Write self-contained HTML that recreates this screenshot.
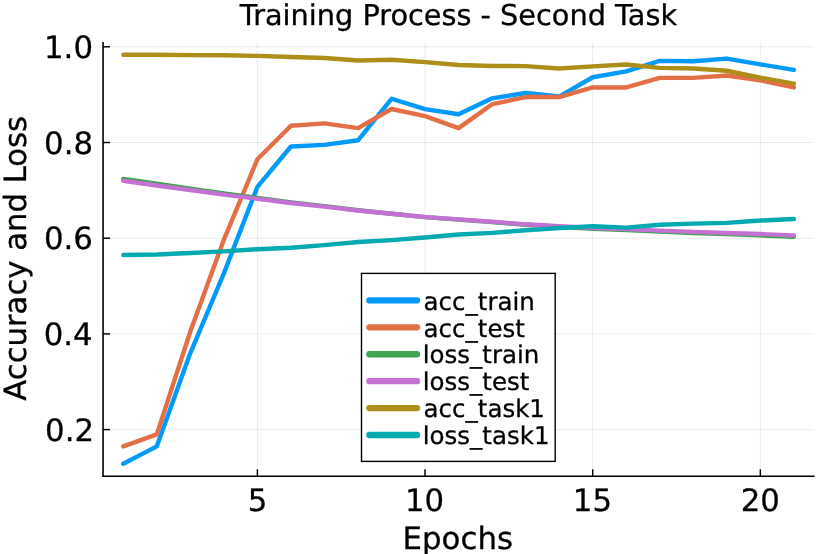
<!DOCTYPE html>
<html lang="en"><head><meta charset="utf-8"><title>Training Process - Second Task</title>
<style>html,body{margin:0;padding:0;background:#fff;}body{width:830px;height:554px;overflow:hidden;}svg{display:block;}text{font-family:'DejaVu Sans', 'Liberation Sans', sans-serif;fill:#000;stroke:#000;stroke-width:0.3px;stroke-linejoin:round;text-rendering:geometricPrecision;}</style>
</head><body>
<svg width="830" height="554" viewBox="0 0 830 554">
<rect x="0" y="0" width="830" height="554" fill="#ffffff"/>
<g stroke="#000" stroke-opacity="0.1" stroke-width="0.8" fill="none">
<line x1="257.40" y1="42.10" x2="257.40" y2="476.25"/>
<line x1="425.05" y1="42.10" x2="425.05" y2="476.25"/>
<line x1="592.70" y1="42.10" x2="592.70" y2="476.25"/>
<line x1="760.35" y1="42.10" x2="760.35" y2="476.25"/>
<line x1="103.05" y1="429.60" x2="814.10" y2="429.60"/>
<line x1="103.05" y1="333.90" x2="814.10" y2="333.90"/>
<line x1="103.05" y1="238.20" x2="814.10" y2="238.20"/>
<line x1="103.05" y1="142.50" x2="814.10" y2="142.50"/>
<line x1="103.05" y1="46.80" x2="814.10" y2="46.80"/>
</g>
<g stroke="#000" stroke-width="1.45" fill="none" stroke-linecap="butt">
<line x1="103.05" y1="42.10" x2="103.05" y2="476.97" stroke-width="1.6"/>
<line x1="102.30" y1="476.25" x2="814.60" y2="476.25"/>
<line x1="257.40" y1="476.25" x2="257.40" y2="469.25"/>
<line x1="425.05" y1="476.25" x2="425.05" y2="469.25"/>
<line x1="592.70" y1="476.25" x2="592.70" y2="469.25"/>
<line x1="760.35" y1="476.25" x2="760.35" y2="469.25"/>
<line x1="103.05" y1="429.60" x2="110.05" y2="429.60"/>
<line x1="103.05" y1="333.90" x2="110.05" y2="333.90"/>
<line x1="103.05" y1="238.20" x2="110.05" y2="238.20"/>
<line x1="103.05" y1="142.50" x2="110.05" y2="142.50"/>
<line x1="103.05" y1="46.80" x2="110.05" y2="46.80"/>
</g>
<g fill="none" stroke-width="4.40" stroke-linecap="round" stroke-linejoin="round">
<polyline stroke="#009AFA" points="123.28,463.72 156.81,446.35 190.34,353.04 223.87,273.37 257.40,186.86 290.93,146.52 324.46,144.89 357.99,140.30 391.52,98.77 425.05,109.15 458.58,114.27 492.11,98.33 525.64,92.98 559.17,96.56 592.70,77.23 626.23,71.44 659.76,60.92 693.29,61.25 726.82,58.57 760.35,64.36 793.88,69.82"/>
<polyline stroke="#E36F47" points="123.28,446.35 156.81,434.39 190.34,331.51 223.87,239.64 257.40,159.25 290.93,125.75 324.46,123.36 357.99,128.15 391.52,109.00 425.05,116.18 458.58,128.15 492.11,104.22 525.64,97.04 559.17,97.04 592.70,87.47 626.23,87.47 659.76,77.90 693.29,77.90 726.82,75.51 760.35,80.29 793.88,87.47"/>
<polyline stroke="#3EA44E" points="123.28,178.87 156.81,183.79 190.34,188.58 223.87,193.36 257.40,197.86 290.93,202.31 324.46,206.14 357.99,210.21 391.52,213.80 425.05,217.08 458.58,219.59 492.11,222.11 525.64,224.82 559.17,226.76 592.70,228.75 626.23,229.97 659.76,231.63 693.29,232.95 726.82,234.17 760.35,235.40 793.88,236.81"/>
<polyline stroke="#C371D2" points="123.28,180.78 156.81,185.47 190.34,190.02 223.87,194.56 257.40,198.82 290.93,203.03 324.46,206.62 357.99,210.45 391.52,213.80 425.05,216.95 458.58,219.35 492.11,221.74 525.64,224.32 559.17,226.14 592.70,228.01 626.23,229.11 659.76,230.64 693.29,231.84 726.82,232.94 760.35,234.04 793.88,235.33"/>
<polyline stroke="#AC8E18" points="123.28,54.79 156.81,54.79 190.34,55.17 223.87,55.32 257.40,55.89 290.93,56.99 324.46,58.04 357.99,60.44 391.52,59.72 425.05,62.11 458.58,64.98 492.11,65.94 525.64,66.13 559.17,68.52 592.70,66.42 626.23,64.50 659.76,67.85 693.29,68.48 726.82,70.73 760.35,77.57 793.88,83.60"/>
<polyline stroke="#00AAAE" points="123.28,254.95 156.81,254.47 190.34,253.03 223.87,251.36 257.40,249.21 290.93,247.77 324.46,245.14 357.99,242.03 391.52,240.11 425.05,237.48 458.58,234.56 492.11,232.84 525.64,230.21 559.17,228.06 592.70,226.24 626.23,227.67 659.76,224.80 693.29,223.61 726.82,222.89 760.35,220.50 793.88,219.06"/>
</g>
<rect x="361.50" y="273.40" width="193.70" height="188.00" fill="#fff" stroke="#000" stroke-width="1.4"/>
<g fill="none" stroke-width="6.3" stroke-linecap="round">
<line stroke="#009AFA" x1="369.4" y1="300.40" x2="417.0" y2="300.40"/>
<line stroke="#E36F47" x1="369.4" y1="327.32" x2="417.0" y2="327.32"/>
<line stroke="#3EA44E" x1="369.4" y1="354.24" x2="417.0" y2="354.24"/>
<line stroke="#C371D2" x1="369.4" y1="381.16" x2="417.0" y2="381.16"/>
<line stroke="#AC8E18" x1="369.4" y1="408.08" x2="417.0" y2="408.08"/>
<line stroke="#00AAAE" x1="369.4" y1="435.00" x2="417.0" y2="435.00"/>
</g>
<g font-size="24.5px">
<text x="423.60" y="309.60">acc_train</text>
<text x="423.60" y="336.52">acc_test</text>
<text x="422.76" y="363.44">loss_train</text>
<text x="422.76" y="390.36">loss_test</text>
<text x="423.60" y="417.28">acc_task1</text>
<text x="422.76" y="444.20">loss_task1</text>
</g>
<g font-size="30.8px">
<text x="257.66" y="511.0" text-anchor="middle">5</text>
<text x="424.48" y="511.0" text-anchor="middle">10</text>
<text x="592.45" y="511.0" text-anchor="middle">15</text>
<text x="760.34" y="511.0" text-anchor="middle">20</text>
<text x="94.03" y="440.60" text-anchor="end">0.2</text>
<text x="92.68" y="344.90" text-anchor="end">0.4</text>
<text x="92.89" y="249.20" text-anchor="end">0.6</text>
<text x="93.06" y="153.50" text-anchor="end">0.8</text>
<text x="93.00" y="57.80" text-anchor="end">1.0</text>
<text x="457.79" y="549.4" text-anchor="middle">Epochs</text>
<text transform="translate(26.4,258.33) rotate(-90)" text-anchor="middle" font-size="30.7px">Accuracy and Loss</text>
</g>
<text x="458.45" y="24.9" text-anchor="middle" font-size="28.75px">Training Process - Second Task</text>
</svg>
</body></html>
